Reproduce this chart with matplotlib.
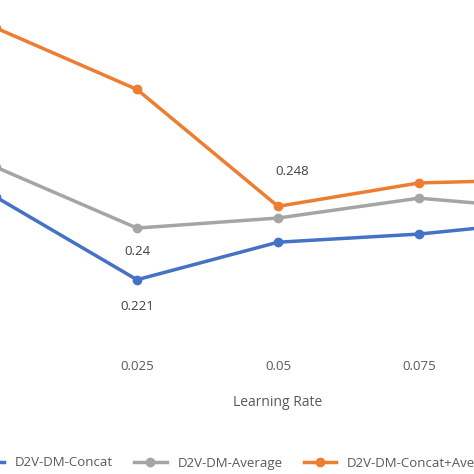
import matplotlib
matplotlib.use('Agg')
from matplotlib import pyplot as plt
from matplotlib.transforms import blended_transform_factory

plt.rcParams['font.family'] = ['Open Sans', 'DejaVu Sans']

# 데이터
rates = ['0.01', '0.025', '0.05', '0.075', '0.1']
concat = [0.2514, 0.221, 0.2348, 0.2378, 0.243]
average = [0.2624, 0.240, 0.2437, 0.251, 0.2466]
third = [0.3136, 0.291, 0.248, 0.2566, 0.258]

fig = plt.figure(figsize=(4.74, 4.74), dpi=100)
ax = fig.add_axes([0, 0.2722, 1, 0.7278])
x = list(range(len(rates)))

ax.plot(x, concat, color='#4472C4', lw=2.5, marker='o', ms=6, label='D2V-DM-Concat')
ax.plot(x, average, color='#A5A5A5', lw=2.5, marker='o', ms=6, label='D2V-DM-Average')
ax.plot(x, third, color='#ED7D31', lw=2.5, marker='o', ms=6, label='D2V-DM-Concat+Average')

ax.annotate('0.248', (2, third[2]), xytext=(10, 25), textcoords='offset points',
            ha='center', va='center', fontsize=9.5, color='#404040')
ax.annotate('0.24', (1, average[1]), xytext=(0, -17), textcoords='offset points',
            ha='center', va='center', fontsize=9.5, color='#404040')
ax.annotate('0.221', (1, concat[1]), xytext=(0, -19), textcoords='offset points',
            ha='center', va='center', fontsize=9.5, color='#404040')

ax.set_xticks(x)
ax.set_xticklabels(rates, fontsize=9.5, color='#595959')
ax.set_xlim(1 - 137 / 141, 1 + 337 / 141)
ax.set_ylim(0.197, 0.3239)
ax.tick_params(length=0, pad=11)
ax.set_yticks([])
for s in ax.spines.values():
    s.set_visible(False)

tr = blended_transform_factory(ax.transData, fig.transFigure)
ax.text(2, 1 - 403 / 474, 'Learning Rate', transform=tr, ha='center', va='center',
        fontsize=10, color='#595959')

fig.legend(loc='center', bbox_to_anchor=(0.5, 1 - 463 / 474), ncol=3, frameon=False,
           fontsize=9.5, columnspacing=1.6, handlelength=2.5, labelcolor='#595959')

fig.savefig('out.png', dpi=100)
